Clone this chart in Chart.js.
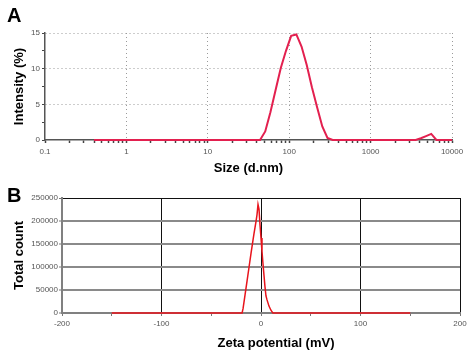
<!DOCTYPE html>
<html>
<head>
<meta charset="utf-8">
<script src="https://cdn.jsdelivr.net/npm/chart.js@4/dist/chart.umd.min.js"></script>
<style>
  html,body{margin:0;padding:0;background:#fff;}
  body{width:474px;height:358px;position:relative;overflow:hidden;font-family:"Liberation Sans",Arial,sans-serif;}
  .wrap{position:absolute;left:0;width:474px;}
  #wa{top:0;height:180px;}
  #wb{top:178px;height:180px;}
  .lbl{position:absolute;left:7px;font-weight:bold;font-size:20px;line-height:20px;color:#000;}
  .xt{position:absolute;font-weight:bold;font-size:13px;line-height:16px;color:#000;white-space:nowrap;transform:translateX(-50%);}
</style>
</head>
<body>
<div class="wrap" id="wa"><canvas id="ca"></canvas></div>
<div class="wrap" id="wb"><canvas id="cb"></canvas></div>
<div class="lbl" style="top:5px">A</div>
<div class="lbl" style="top:185px">B</div>
<div class="xt" style="left:276px;top:335px">Zeta potential (mV)</div>
<script>
// ---- Panel A: size distribution (intensity %) ----
const sizeNm = [0.4, 43.82, 50.75, 58.77, 68.06, 78.82, 91.28, 105.7, 122.4, 141.8, 164.2, 190.1, 220.2, 255.0, 295.3, 342.0, 3580, 4145, 4801, 5560, 6439, 10000];
const intensityPct = [0, 0, 1.2, 3.9, 7.0, 10.1, 12.5, 14.6, 14.8, 13.1, 10.5, 7.4, 4.6, 1.9, 0.3, 0, 0, 0.25, 0.55, 0.85, 0, 0];
const sizeMajorTicks = [0.1, 1, 10, 100, 1000, 10000];
const intensityTicks = [0, 5, 10, 15];

// ---- Panel B: zeta potential (total count) ----
const zetaMv = [-150, -19, -18, -16, -14, -12, -10, -8, -7, -6, -5, -4, -3, -2, -1, 0, 1, 2, 3, 4, 5, 6, 7, 8, 10, 11, 12, 150];
const totalCount = [0, 0, 10000, 40000, 70000, 100000, 130000, 159000, 173000, 186000, 199000, 214000, 236000, 226000, 192000, 163000, 134000, 107000, 82000, 57000, 37000, 29000, 22000, 15000, 6000, 3000, 0, 0];
const zetaTicks = [-200, -100, 0, 100, 200];
const countTicks = [0, 50000, 100000, 150000, 200000, 250000];

const FONT = '"Liberation Sans", Arial, sans-serif';
const isMajorLog = v => Math.abs(Math.log10(v) - Math.round(Math.log10(v))) < 1e-9;
const findMajor = v => sizeMajorTicks.find(m => Math.abs(m - v) < 1e-9 * m);
const CLEAR = 'rgba(0,0,0,0)';

new Chart(document.getElementById('ca'), {
  type: 'line',
  data: {
    datasets: [{
      data: sizeNm.map((x, i) => ({x: x, y: intensityPct[i]})),
      borderColor: '#e3204f',
      borderWidth: 2,
      pointRadius: 0,
      tension: 0,
      fill: false,
      clip: false
    }]
  },
  options: {
    responsive: true,
    maintainAspectRatio: false,
    animation: false,
    layout: {padding: {top: 33, right: 22, left: 0, bottom: 0}},
    plugins: {legend: {display: false}, tooltip: {enabled: false}},
    scales: {
      x: {
        type: 'logarithmic',
        min: 0.1, max: 10000,
        afterBuildTicks: s => {
          const t = [];
          for (let d = 0; d < sizeMajorTicks.length; d++) {
            const base = sizeMajorTicks[d];
            t.push({value: base});
            if (d < sizeMajorTicks.length - 1) {
              for (let m = 2; m <= 9; m++) t.push({value: base * m});
            }
          }
          s.ticks = t;
        },
        afterFit: s => { s.height = 40; },
        ticks: {
          autoSkip: false, maxRotation: 0, padding: 4,
          color: '#555', font: {family: FONT, size: 8},
          callback: v => { const m = findMajor(v); return m !== undefined ? String(m) : ''; }
        },
        grid: {
          color: c => (c.tick && isMajorLog(c.tick.value) && c.tick.value > 0.1) ? '#9a9a9a' : CLEAR,
          lineWidth: 1,
          tickLength: 3,
          tickColor: '#444',
          tickWidth: 1.5
        },
        border: {display: true, color: '#555', width: 1.5, dash: [1, 3]},
        title: {display: true, text: 'Size (d.nm)', color: '#000', font: {family: FONT, size: 13, weight: 'bold'}, padding: {top: 0, bottom: 4}}
      },
      y: {
        min: 0, max: 15,
        afterBuildTicks: s => {
          const t = [];
          for (let v = 0; v <= 15; v += 2.5) t.push({value: v});
          s.ticks = t;
        },
        afterFit: s => { s.width = 45; },
        ticks: {
          padding: 2, color: '#555', font: {family: FONT, size: 8},
          callback: v => intensityTicks.includes(v) ? String(v) : ''
        },
        grid: {
          color: c => (c.tick && intensityTicks.includes(c.tick.value) && c.tick.value > 0) ? '#9a9a9a' : CLEAR,
          lineWidth: 1,
          tickLength: 3,
          tickColor: '#444'
        },
        border: {display: true, color: '#555', width: 1.5, dash: [1, 3]},
        title: {display: true, text: 'Intensity (%)', color: '#000', font: {family: FONT, size: 13, weight: 'bold'}, padding: {top: 12, bottom: 0}}
      }
    }
  }
});

new Chart(document.getElementById('cb'), {
  type: 'line',
  data: {
    datasets: [{
      data: zetaMv.map((x, i) => ({x: x, y: totalCount[i]})),
      borderColor: '#e8141c',
      borderWidth: 1.5,
      pointRadius: 0,
      tension: 0,
      fill: false,
      clip: false
    }]
  },
  options: {
    responsive: true,
    maintainAspectRatio: false,
    animation: false,
    layout: {padding: {top: 20, right: 14, left: 0, bottom: 0}},
    plugins: {legend: {display: false}, tooltip: {enabled: false}},
    scales: {
      x: {
        type: 'linear',
        min: -200, max: 200,
        afterBuildTicks: s => {
          const t = [];
          for (let v = -200; v <= 200; v += 50) t.push({value: v});
          s.ticks = t;
        },
        afterFit: s => { s.height = 45; },
        ticks: {
          autoSkip: false, maxRotation: 0, padding: 3,
          color: '#555', font: {family: FONT, size: 8},
          callback: v => zetaTicks.includes(v) ? String(v) : ''
        },
        grid: {
          color: c => (c.tick && zetaTicks.includes(c.tick.value) && c.tick.value > -200) ? '#111' : CLEAR,
          lineWidth: 1,
          tickLength: 3,
          tickColor: '#777'
        },
        border: {display: true, color: '#808080', width: 2},
        title: {display: false}
      },
      y: {
        min: 0, max: 250000,
        afterBuildTicks: s => {
          const t = [];
          for (let v = 0; v <= 250000; v += 25000) t.push({value: v});
          s.ticks = t;
        },
        afterFit: s => { s.width = 62; },
        ticks: {
          padding: 1, color: '#555', font: {family: FONT, size: 8},
          callback: v => countTicks.includes(v) ? String(v) : ''
        },
        grid: {
          color: c => {
            if (!c.tick) return CLEAR;
            const v = c.tick.value;
            if (v === 250000) return '#111';
            if (countTicks.includes(v) && v > 0) return '#8a8a8a';
            return CLEAR;
          },
          lineWidth: c => (c.tick && c.tick.value === 250000) ? 1 : 2,
          tickLength: 3,
          tickColor: '#777',
          tickWidth: 1
        },
        border: {display: true, color: '#808080', width: 2},
        title: {display: true, text: 'Total count', color: '#000', font: {family: FONT, size: 13, weight: 'bold'}, padding: {top: 12, bottom: 0}}
      }
    }
  }
});
</script>
</body>
</html>
